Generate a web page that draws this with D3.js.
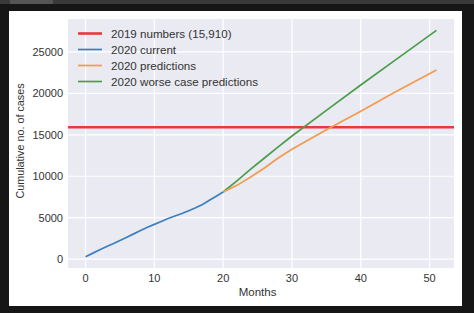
<!DOCTYPE html>
<html>
<head>
<meta charset="utf-8">
<script src="https://cdn.jsdelivr.net/npm/d3@7"></script>
<style>
  body { margin: 0; background: #161616; }
  svg { display: block; font-family: "Liberation Sans", Arial, sans-serif; }
</style>
</head>
<body>
<script>
var w = 474,
    h = 313;

// data
var currentMonths = [0,1,2,3,4,5,6,7,8,9,10,11,12,13,14,15,16,17,18,19,20],
    currentCases = [300,700,1100,1500,1850,2250,2650,3050,3450,3850,4200,4550,4900,5200,5500,5850,6200,6600,7100,7600,8100],
    predMonths = [20,22,24,26,28,30,35,40,45,51],
    predCases = [8100,8900,9900,11000,12200,13250,15600,17850,20150,22800],
    worseCases = [8100,9450,10850,12200,13550,14850,17950,21000,24000,27600],
    numbers2019 = 15910;

var xTicks = [0,10,20,30,40,50],
    yTicks = [0,5000,10000,15000,20000,25000];

var legendItems = [
  {label: '2019 numbers (15,910)', color: '#e8393b'},
  {label: '2020 current', color: '#3b7fbf'},
  {label: '2020 predictions', color: '#f39a4d'},
  {label: '2020 worse case predictions', color: '#4a9e4a'}
];

var svg = d3.select('body').append('svg')
  .attr('width', w)
  .attr('height', h);

// top strip of the window
svg.append('rect').attr('x',0).attr('y',0).attr('width',w).attr('height',4).attr('fill','#3a3a3a');
svg.append('rect').attr('x',10).attr('y',0).attr('width',43).attr('height',4).attr('fill','#555');

// white figure panel
svg.append('rect')
  .attr('x', 9).attr('y', 11)
  .attr('width', 453).attr('height', 295)
  .attr('fill', '#ffffff');

var plot = {left: 68, right: 454, top: 19, bottom: 268};

var x = d3.scaleLinear().domain([-2.55, 53.55]).range([plot.left, plot.right]);
var y = d3.scaleLinear().domain([-1065, 28965]).range([plot.bottom, plot.top]);

svg.append('rect')
  .attr('x', plot.left).attr('y', plot.top)
  .attr('width', plot.right - plot.left)
  .attr('height', plot.bottom - plot.top)
  .attr('fill', '#eaeaf2');

//grid
svg.selectAll('line.gx')
  .data(xTicks)
  .enter().append('line')
  .attr('x1', d => x(d)).attr('x2', d => x(d))
  .attr('y1', plot.top).attr('y2', plot.bottom)
  .attr('stroke', '#fff').attr('stroke-width', 1.2);

svg.selectAll('line.gy')
  .data(yTicks)
  .enter().append('line')
  .attr('y1', d => y(d)).attr('y2', d => y(d))
  .attr('x1', plot.left).attr('x2', plot.right)
  .attr('stroke', '#fff').attr('stroke-width', 1.2);

//tick labels
svg.selectAll('text.xt')
  .data(xTicks)
  .enter().append('text')
  .attr('x', d => x(d))
  .attr('y', 282)
  .attr('text-anchor', 'middle')
  .attr('font-size', 11)
  .attr('fill', '#333')
  .text(d => d);

svg.selectAll('text.yt')
  .data(yTicks)
  .enter().append('text')
  .attr('x', 63)
  .attr('y', d => y(d) + 4)
  .attr('text-anchor', 'end')
  .attr('font-size', 11)
  .attr('fill', '#333')
  .text(d => d);

svg.append('text')
  .attr('x', x(25))
  .attr('y', 296)
  .attr('text-anchor', 'middle')
  .attr('font-size', 11.5)
  .attr('fill', '#333')
  .text('Months');

svg.append('text')
  .attr('transform', 'translate(24,141) rotate(-90)')
  .attr('text-anchor', 'middle')
  .attr('font-size', 10.8)
  .attr('fill', '#333')
  .text('Cumulative no. of cases');

//lines
var line = d3.line().x(d => x(d[0])).y(d => y(d[1]));

svg.append('line')
  .attr('x1', plot.left).attr('x2', plot.right)
  .attr('y1', y(numbers2019)).attr('y2', y(numbers2019))
  .attr('stroke', legendItems[0].color).attr('stroke-width', 2.6);

svg.append('path')
  .datum(d3.zip(predMonths, worseCases))
  .attr('d', line)
  .attr('fill', 'none')
  .attr('stroke', legendItems[3].color)
  .attr('stroke-width', 1.7);

svg.append('path')
  .datum(d3.zip(predMonths, predCases))
  .attr('d', line)
  .attr('fill', 'none')
  .attr('stroke', legendItems[2].color)
  .attr('stroke-width', 1.7);

svg.append('path')
  .datum(d3.zip(currentMonths, currentCases))
  .attr('d', line)
  .attr('fill', 'none')
  .attr('stroke', legendItems[1].color)
  .attr('stroke-width', 1.7);

//legend
var lg = svg.selectAll('g.legend')
  .data(legendItems)
  .enter().append('g')
  .attr('transform', (d, i) => 'translate(78,' + (33.5 + i * 16) + ')');

lg.append('line')
  .attr('x1', 0).attr('x2', 24)
  .attr('stroke', d => d.color)
  .attr('stroke-width', (d, i) => i === 0 ? 2.6 : 1.7);

lg.append('text')
  .attr('x', 33)
  .attr('y', 4.5)
  .attr('font-size', 11.6)
  .attr('fill', '#333')
  .text(d => d.label);
</script>
</body>
</html>
